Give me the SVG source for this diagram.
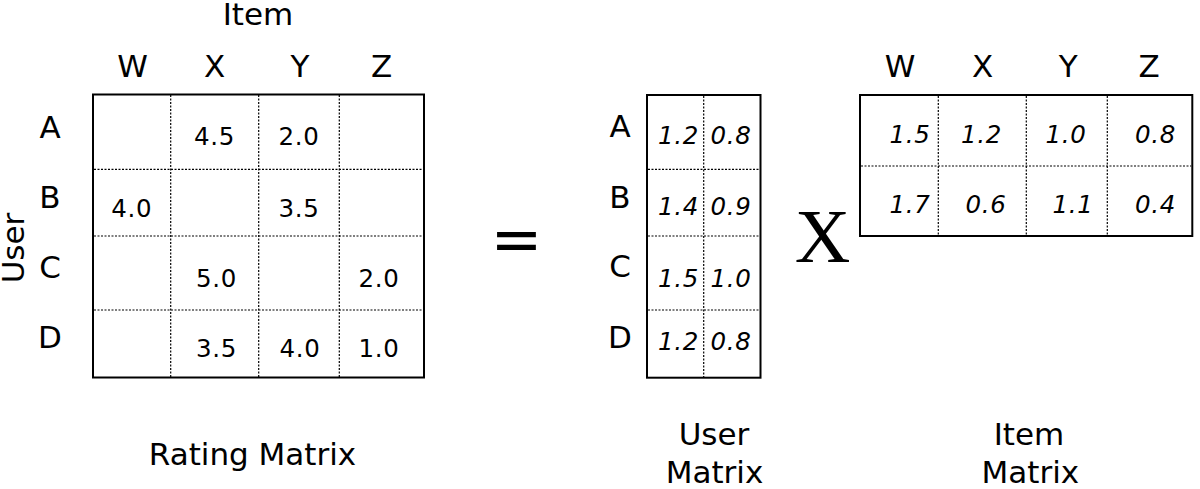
<svg xmlns="http://www.w3.org/2000/svg" width="1200" height="489" viewBox="0 0 1200 489">
<style>
.lbl{font-family:"DejaVu Sans",Verdana,sans-serif;font-size:31px;fill:#000;text-anchor:middle}
.num{font-family:"DejaVu Sans",Verdana,sans-serif;font-size:24.5px;fill:#000;text-anchor:middle;letter-spacing:0.6px}
.it{font-style:italic}
.box{fill:#fff;stroke:#000;stroke-width:2}
.dash{stroke:#000;stroke-width:1.2;stroke-dasharray:2,1.5;fill:none}
</style>
<rect width="1200" height="489" fill="#fff"/>
<g id="rating-matrix">
<rect class="box" x="93" y="94.5" width="331" height="283"/>
<g class="dash">
<line x1="170.7" y1="95" x2="170.7" y2="377"/>
<line x1="258.7" y1="95" x2="258.7" y2="377"/>
<line x1="339.3" y1="95" x2="339.3" y2="377"/>
<line x1="94" y1="169.3" x2="423" y2="169.3"/>
<line x1="94" y1="236" x2="423" y2="236"/>
<line x1="94" y1="310" x2="423" y2="310"/>
</g>
<text class="lbl" x="258" y="25">Item</text>
<text class="lbl" x="132.5" y="77">W</text>
<text class="lbl" x="214.5" y="77">X</text>
<text class="lbl" x="300" y="77">Y</text>
<text class="lbl" x="381.7" y="77">Z</text>
<text class="lbl" transform="translate(24,248) rotate(-90)" x="0" y="0">User</text>
<text class="lbl" x="50" y="137.7">A</text>
<text class="lbl" x="50" y="207.5">B</text>
<text class="lbl" x="50" y="277.5">C</text>
<text class="lbl" x="50" y="348.3">D</text>
<text class="num" x="214.5" y="145">4.5</text>
<text class="num" x="299" y="145">2.0</text>
<text class="num" x="131.7" y="216.7">4.0</text>
<text class="num" x="299" y="216.7">3.5</text>
<text class="num" x="216.5" y="286.7">5.0</text>
<text class="num" x="379" y="286.7">2.0</text>
<text class="num" x="216.5" y="356.7">3.5</text>
<text class="num" x="300" y="356.7">4.0</text>
<text class="num" x="379" y="356.7">1.0</text>
<text class="lbl" x="252.5" y="465">Rating Matrix</text>
</g>
<g id="equals">
<text x="516.5" y="261" style="font-family:'DejaVu Sans',sans-serif;font-size:62px;text-anchor:middle">=</text>
</g>
<g id="user-matrix">
<rect class="box" x="647" y="95" width="113.5" height="282.7"/>
<g class="dash">
<line x1="703.7" y1="96" x2="703.7" y2="377"/>
<line x1="648" y1="169.3" x2="759.5" y2="169.3"/>
<line x1="648" y1="236" x2="759.5" y2="236"/>
<line x1="648" y1="310" x2="759.5" y2="310"/>
</g>
<text class="lbl" x="620" y="136.7">A</text>
<text class="lbl" x="620" y="208">B</text>
<text class="lbl" x="620" y="276.7">C</text>
<text class="lbl" x="620" y="348">D</text>
<text class="num it" x="678.5" y="144">1.2</text>
<text class="num it" x="731" y="144">0.8</text>
<text class="num it" x="678.5" y="215">1.4</text>
<text class="num it" x="731" y="215">0.9</text>
<text class="num it" x="678.5" y="286.7">1.5</text>
<text class="num it" x="731" y="286.7">1.0</text>
<text class="num it" x="678.5" y="350">1.2</text>
<text class="num it" x="731" y="350">0.8</text>
<text class="lbl" x="714" y="445">User</text>
<text class="lbl" x="714.5" y="482.7">Matrix</text>
</g>
<g id="times">
<text x="822.5" y="262" style="font-family:'Liberation Serif','Times New Roman',serif;font-size:77px;text-anchor:middle">X</text>
</g>
<g id="item-matrix">
<rect class="box" x="860" y="95" width="332.3" height="141"/>
<g class="dash">
<line x1="938.3" y1="96" x2="938.3" y2="235"/>
<line x1="1026.3" y1="96" x2="1026.3" y2="235"/>
<line x1="1107.3" y1="96" x2="1107.3" y2="235"/>
<line x1="861" y1="166" x2="1191.3" y2="166"/>
</g>
<text class="lbl" x="900" y="76.7">W</text>
<text class="lbl" x="982.7" y="76.7">X</text>
<text class="lbl" x="1068.3" y="76.7">Y</text>
<text class="lbl" x="1149" y="76.7">Z</text>
<text class="num it" x="910" y="143.3">1.5</text>
<text class="num it" x="981.5" y="143.3">1.2</text>
<text class="num it" x="1066" y="143.3">1.0</text>
<text class="num it" x="1155.5" y="143.3">0.8</text>
<text class="num it" x="910" y="213.3">1.7</text>
<text class="num it" x="986" y="213.3">0.6</text>
<text class="num it" x="1073" y="213.3">1.1</text>
<text class="num it" x="1155.5" y="213.3">0.4</text>
<text class="lbl" x="1029" y="445">Item</text>
<text class="lbl" x="1030.3" y="482.7">Matrix</text>
</g>
<g id="connectors"></g>
</svg>
